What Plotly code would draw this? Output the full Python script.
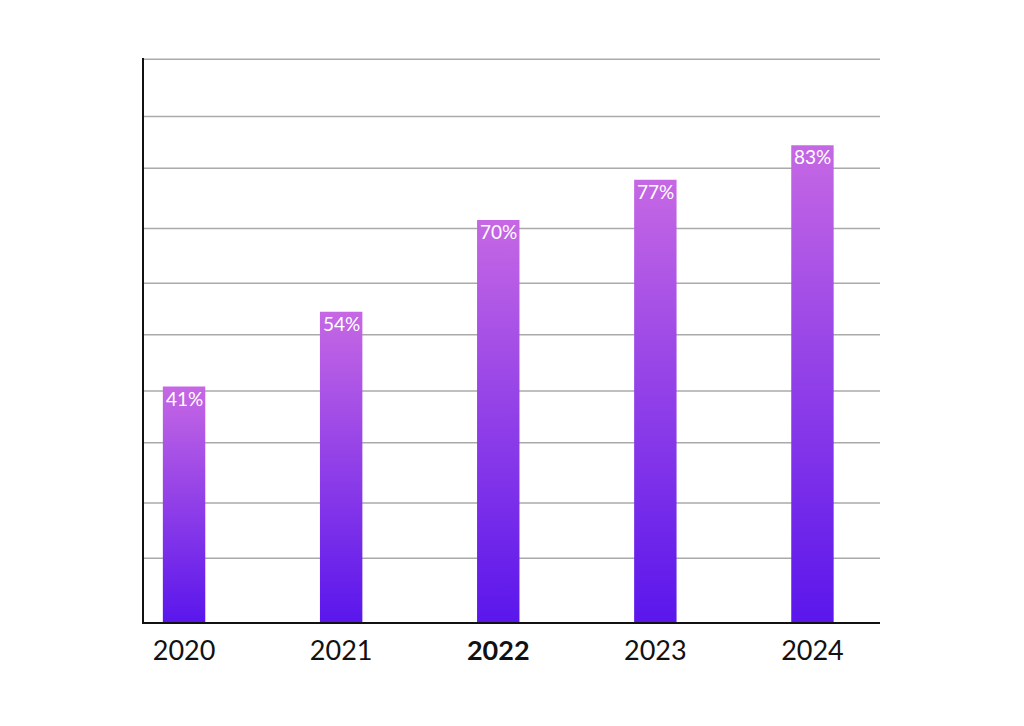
import plotly.graph_objects as go

YEARS = ["2020", "2021", "2022", "2023", "2024"]
SHARE = [41, 54, 70, 77, 83]
LABELS = ["41%", "54%", "70%", "77%", "83%"]
TICK_TEXT = ["2020", "2021", "<b>2022</b>", "2023", "2024"]
# gridline levels as they sit in the picture (slightly uneven)
GRID_LEVELS = [11.1, 20.7, 31.2, 40.2, 50.0, 59.0, 68.5, 79.0, 88.0, 98.0]

BAR_WIDTH = 0.27
TOP_COLOR = "#c668e4"
BOTTOM_COLOR = "#5a16ec"

fig = go.Figure()

# one filled trace per bar so each bar carries its own vertical gradient
for i, (year, value) in enumerate(zip(YEARS, SHARE)):
    left = i - BAR_WIDTH / 2
    right = i + BAR_WIDTH / 2
    fig.add_trace(
        go.Scatter(
            x=[left, right, right, left, left],
            y=[0, 0, value, value, 0],
            mode="lines",
            line=dict(width=0),
            fill="toself",
            fillgradient=dict(
                type="vertical",
                colorscale=[[0, BOTTOM_COLOR], [1, TOP_COLOR]],
            ),
            hoverinfo="skip",
            showlegend=False,
            name=year,
        )
    )
    # value label just inside the top of the bar
    fig.add_annotation(
        x=i, y=value, text=LABELS[i],
        showarrow=False, yanchor="top", yshift=2,
        font=dict(family="Lato", size=19, color="white"),
    )

for level in GRID_LEVELS:
    fig.add_shape(
        type="line", xref="paper", yref="y",
        x0=0, x1=1, y0=level, y1=level,
        line=dict(color="#aaaaaa", width=1.5),
        layer="below",
    )

# the page puts the figure 8px in from the top-left corner
fig.update_layout(
    width=1024,
    height=726,
    margin=dict(l=136, r=152, t=50, b=112),
    paper_bgcolor="white",
    plot_bgcolor="white",
    font=dict(family="Lato", color="#111111"),
    xaxis=dict(
        range=[-0.255, 4.43],
        tickvals=list(range(len(YEARS))),
        ticktext=TICK_TEXT,
        tickfont=dict(size=27, color="#111111"),
        showgrid=False,
        zeroline=False,
        showline=True,
        linecolor="#111111",
        linewidth=2,
        ticks="",
        ticklabelstandoff=4,
    ),
    yaxis=dict(
        range=[0, 98.2],
        showgrid=False,
        zeroline=False,
        showticklabels=False,
        showline=True,
        linecolor="#111111",
        linewidth=2,
        ticks="",
    ),
)

fig.write_html("out.html")
